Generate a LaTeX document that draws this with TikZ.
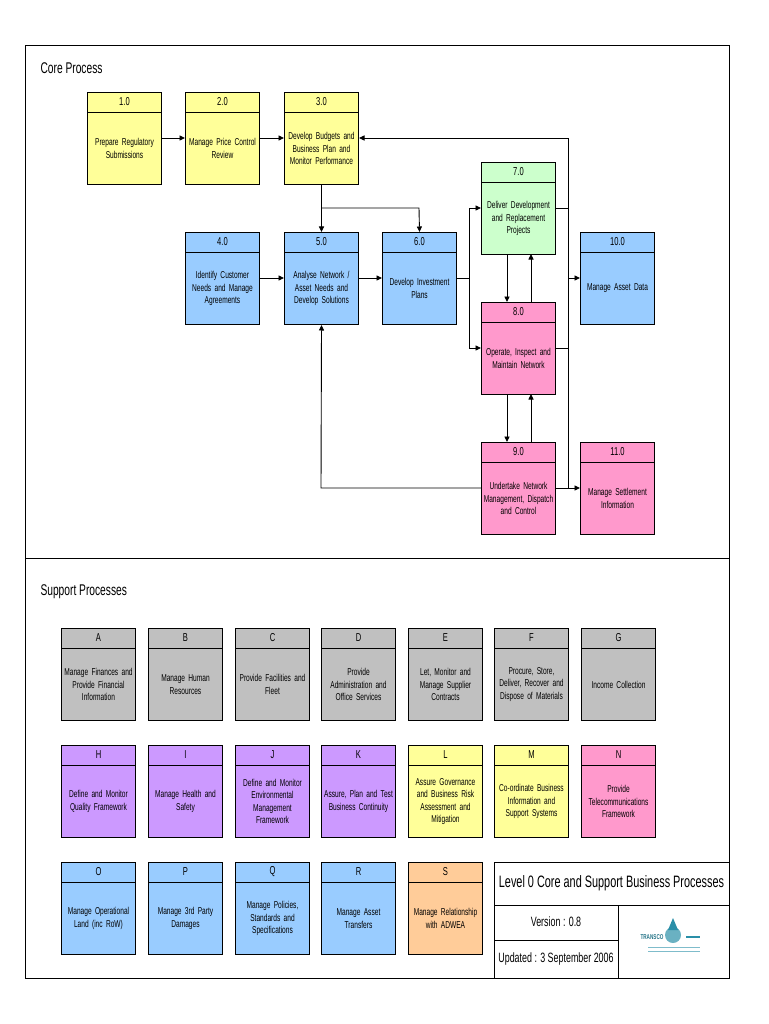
\documentclass[tikz,border=0pt]{standalone}
\usepackage{fontspec}
\setmainfont{Liberation Sans}[FakeStretch=0.66]
\usetikzlibrary{arrows.meta,calc}
\definecolor{cy}{HTML}{FFFF99}
\definecolor{cb}{HTML}{99CCFF}
\definecolor{cg}{HTML}{CCFFCC}
\definecolor{cp}{HTML}{FF99CC}
\definecolor{cgr}{HTML}{C0C0C0}
\definecolor{cv}{HTML}{CC99FF}
\definecolor{co}{HTML}{FFCC99}
\definecolor{ct}{HTML}{2A8FA8}
\tikzset{
 box/.style={draw,line width=1pt,minimum width=74pt,minimum height=92pt,inner sep=0pt},
 hd/.style={font=\fontsize{11.5}{12}\selectfont,inner sep=0pt},
 bd/.style={font=\fontsize{10}{12.5}\selectfont,align=center,text width=76pt,inner sep=0pt},
 con/.style={line width=0.9pt},
 arr/.style={con,-{Triangle[length=5.5pt,width=5pt]}},
 frame/.style={draw,line width=0.9pt},
}
\newcommand{\pbx}[6]{%
 \node[box,fill=#6,anchor=north west] (#1) at (#2,#3) {};
 \draw[line width=0.9pt] ($(#1.north west)+(0,20)$) -- ($(#1.north east)+(0,20)$);
 \node[hd] at ($(#1.north)+(0,10)$) {#4};
 \node[bd] at ($(#1.center)+(0,10)$) {#5};
}
\begin{document}
\begin{tikzpicture}[x=1pt,y=-1pt]
\useasboundingbox (0,0) rectangle (768,1024);
\draw[frame] (25,45) rectangle (729,978);
\draw[frame] (25,558) -- (729,558);
\node[anchor=west,font=\fontsize{15.5}{17}\selectfont] (cp) at (37,68) {Core Process};
\node[anchor=west,font=\fontsize{15.5}{17}\selectfont] (sp) at (37,592) {Support Processes};
% core
\pbx{p1}{87}{92}{1.0}{Prepare Regulatory\\Submissions}{cy}
\pbx{p2}{185}{92}{2.0}{Manage Price Control\\Review}{cy}
\pbx{p3}{284}{92}{3.0}{Develop Budgets and\\Business Plan and\\Monitor Performance}{cy}
\pbx{p4}{185}{232}{4.0}{Identify Customer\\Needs and Manage\\Agreements}{cb}
\pbx{p5}{284}{232}{5.0}{Analyse Network /\\Asset Needs and\\Develop Solutions}{cb}
\pbx{p6}{382}{232}{6.0}{Develop Investment\\Plans}{cb}
\pbx{p7}{481}{162}{7.0}{Deliver Development\\and Replacement\\Projects}{cg}
\pbx{p8}{481}{302}{8.0}{Operate, Inspect and\\Maintain Network}{cp}
\pbx{p9}{481}{442}{9.0}{Undertake Network\\Management, Dispatch\\and Control}{cp}
\pbx{p10}{580}{232}{10.0}{Manage Asset Data}{cb}
\pbx{p11}{580}{442}{11.0}{Manage Settlement\\Information}{cp}
% connectors
\draw[arr] (p1.east |- 0,138) -- (p2.west |- 0,138);
\draw[arr] (p2.east |- 0,138) -- (p3.west |- 0,138);
\coordinate (v1) at (568,138);
\coordinate (v2) at (568,488);
\draw[con] (p7.east |- 0,208) -- (568,208);
\draw[con] (p8.east |- 0,348) -- (568,348);
\draw[arr] (v2) -- (v1) -- (p3.east |- v1);
\draw[arr] (568,278) -- (p10.west |- 0,278);
\draw[arr] (p9.east |- v2) -- (p11.west |- v2);
\draw[arr] (p3.south) -- (p5.north);
\draw[arr] (321,208) -- (419,208) -- (p6.north);
\draw[arr] (p4.east |- 0,278) -- (p5.west |- 0,278);
\draw[arr] (p5.east |- 0,278) -- (p6.west |- 0,278);
\draw[con] (p6.east |- 0,278) -- (469,278);
\draw[arr] (469,278) -- (469,208) -- (p7.west |- 0,208);
\draw[arr] (469,278) -- (469,348) -- (p8.west |- 0,348);
\draw[arr] (507,254) -- (507,302);
\draw[arr] (531,302) -- (531,254);
\draw[arr] (507,394) -- (507,442);
\draw[arr] (531,442) -- (531,394);
\draw[arr] (p9.west |- v2) -- (321,488) -- (p5.south);
% support
\pbx{A}{61}{628}{A}{Manage Finances and\\Provide Financial\\Information}{cgr}
\pbx{B}{148}{628}{B}{Manage Human\\Resources}{cgr}
\pbx{C}{235}{628}{C}{Provide Facilities and\\Fleet}{cgr}
\pbx{D}{321}{628}{D}{Provide\\Administration and\\Office Services}{cgr}
\pbx{E}{408}{628}{E}{Let, Monitor and\\Manage Supplier\\Contracts}{cgr}
\pbx{F}{494}{628}{F}{Procure, Store,\\Deliver, Recover and\\Dispose of Materials}{cgr}
\pbx{G}{581}{628}{G}{Income Collection}{cgr}
\pbx{H}{61}{745}{H}{Define and Monitor\\Quality Framework}{cv}
\pbx{I}{148}{745}{I}{Manage Health and\\Safety}{cv}
\pbx{J}{235}{745}{J}{Define and Monitor\\Environmental\\Management\\Framework}{cv}
\pbx{K}{321}{745}{K}{Assure, Plan and Test\\Business Continuity}{cv}
\pbx{L}{408}{745}{L}{Assure Governance\\and Business Risk\\Assessment and\\Mitigation}{cy}
\pbx{M}{494}{745}{M}{Co-ordinate Business\\Information and\\Support Systems}{cy}
\pbx{N}{581}{745}{N}{Provide\\Telecommunications\\Framework}{cp}
\pbx{O}{61}{862}{O}{Manage Operational\\Land (inc RoW)}{cb}
\pbx{P}{148}{862}{P}{Manage 3rd Party\\Damages}{cb}
\pbx{Q}{235}{862}{Q}{Manage Policies,\\Standards and\\Specifications}{cb}
\pbx{R}{321}{862}{R}{Manage Asset\\Transfers}{cb}
\pbx{S}{408}{862}{S}{Manage Relationship\\with ADWEA}{co}
% title block
\draw[frame] (494,862) rectangle (729,978);
\draw[frame] (494,905) -- (729,905);
\draw[frame] (494,940) -- (618,940);
\draw[frame] (618,905) -- (618,978);
\node[font=\fontsize{16.5}{18}\selectfont] (t1) at (611.5,883) {Level 0 Core and Support Business Processes};
\node[font=\fontsize{13.5}{15}\selectfont] (t2) at (556,922) {Version : 0.8};
\node[font=\fontsize{13.5}{15}\selectfont] (t3) at (556,959) {Updated : 3 September 2006};
% logo
\fill[ct!70] (673,935) circle (8);
\fill[ct] (673,918) -- (668,930) -- (678,930) -- cycle;
\node[font=\bfseries\fontsize{7}{7}\selectfont,text=ct!80!black] (lg) at (652,937) {TRANSCO};
\draw[ct,line width=1.2pt] (686,937) -- (700,937);
\draw[ct!60,line width=0.4pt] (648,947) -- (700,947);
\draw[ct!60,line width=0.4pt] (648,951) -- (700,951);
\end{tikzpicture}
\end{document}
